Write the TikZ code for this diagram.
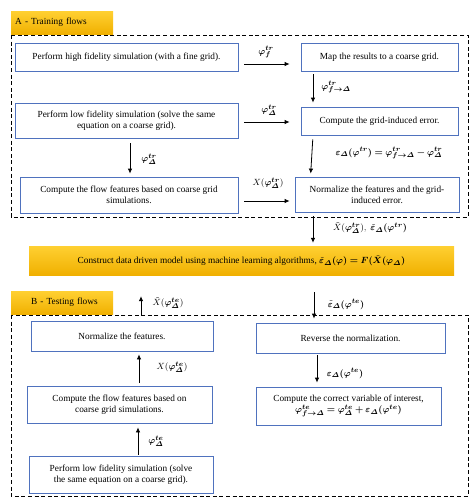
\documentclass[tikz,border=0pt]{standalone}
\usepackage{amsmath}
\usepackage{bm}
\usepackage{fontspec}
\setmainfont{Liberation Serif}
\usetikzlibrary{arrows.meta}
\definecolor{boxblue}{RGB}{79,114,190}
\definecolor{ytop}{RGB}{255,208,50}
\definecolor{ybot}{RGB}{240,176,0}
\newcommand{\fsz}{\fontsize{9.3}{11.2}\selectfont}
\tikzset{
  stepbox/.style={draw=boxblue, line width=0.8pt, fill=white, align=center, inner sep=1pt, font=\fsz},
  yellowbox/.style={top color=ytop, bottom color=ybot, draw=none, font=\fsz},
  dashbox/.style={draw=black, line width=0.8pt, dash pattern=on 4pt off 2.6pt},
  arr/.style={draw=black, line width=0.8pt, -{Latex[length=5pt,width=4.5pt]}},
  lbl/.style={font=\fsz, inner sep=0pt}
}
\begin{document}
\begin{tikzpicture}[x=1pt,y=-1pt]
\useasboundingbox (0,0) rectangle (474,504);
% dashed frames
\draw[dashbox] (11,35) rectangle (468,217);
\draw[dashbox] (11,315) rectangle (468,496);
% section labels
\node[yellowbox, minimum width=102pt, minimum height=23pt, anchor=north west, text width=94pt, align=left] (labA) at (11,11) {A - Training flows};
\node[yellowbox, minimum width=102pt, minimum height=23pt, anchor=north west, text width=94pt, align=left] (labB) at (11,291) {\hspace*{16pt}B - Testing flows};
% training boxes
\node[stepbox, minimum width=223pt, minimum height=28pt] (hf) at (126.5,57) {Perform high fidelity simulation (with a fine grid).};
\node[stepbox, minimum width=157pt, minimum height=28pt] (map) at (379.5,57) {Map the results to a coarse grid.};
\node[stepbox, minimum width=223pt, minimum height=35pt] (lf) at (126.5,120.5) {Perform low fidelity simulation (solve the same\\equation on a coarse grid).};
\node[stepbox, minimum width=157pt, minimum height=28pt] (err) at (379.5,121) {Compute the grid-induced error.};
\node[stepbox, minimum width=218pt, minimum height=36pt] (ff) at (129,195) {Compute the flow features based on coarse grid\\simulations.};
\node[stepbox, minimum width=164pt, minimum height=35pt] (nrm) at (377,194.5) {Normalize the features and the grid-\\induced error.};
% main model box
\node[yellowbox, minimum width=425pt, minimum height=29pt] (model) at (241.5,260.5) {Construct data driven model using machine learning algorithms, $\bm{\tilde{\varepsilon}_{\varDelta}(\varphi) = F(\tilde{X}(\varphi_{\varDelta})}$};
% testing boxes
\node[stepbox, minimum width=182pt, minimum height=30pt] (nrmB) at (122,336) {Normalize the features.};
\node[stepbox, minimum width=185pt, minimum height=37pt] (ffB) at (119.5,404.5) {Compute the flow features based on\\coarse grid simulations.};
\node[stepbox, minimum width=184pt, minimum height=37pt] (lfB) at (121,474.5) {Perform low fidelity simulation (solve\\the same equation on a coarse grid).};
\node[stepbox, minimum width=189pt, minimum height=30pt] (rev) at (350.5,338) {Reverse the normalization.};
\node[stepbox, minimum width=185pt, minimum height=38pt] (cor) at (348.5,406) {Compute the correct variable of interest,\\$\bm{\varphi^{te}_{f\to\varDelta} = \varphi^{te}_{\varDelta} + \varepsilon_{\varDelta}(\varphi^{te})}$};
% training connectors
\draw[arr, shorten <=6pt, shorten >=11pt] ([yshift=-7pt]hf.east) -- ([yshift=-7pt]map.west);
\draw[arr, shorten <=3pt, shorten >=4pt] ([xshift=-66.5pt]map.south) -- ([xshift=-66.5pt]err.north);
\draw[arr, shorten <=6pt, shorten >=11pt] ([yshift=-1.5pt]lf.east) -- ([yshift=-1pt]err.west);
\draw[arr, shorten <=5pt, shorten >=3pt] ([xshift=3.5pt]lf.south) -- ([xshift=1pt]ff.north);
\draw[arr, shorten <=4pt, shorten >=3pt] ([xshift=-66.5pt]err.south) -- ([xshift=-66.5pt]nrm.north);
\draw[arr, shorten <=6pt, shorten >=5pt] ([yshift=-6pt]ff.east) -- ([yshift=-6.5pt]nrm.west);
\draw[arr, shorten <=4pt, shorten >=3pt] ([xshift=-64pt]nrm.south) -- ([xshift=71.5pt]model.north);
% testing connectors
\draw[arr, shorten <=6pt, shorten >=21pt] ([xshift=19pt]nrmB.north) -- ([xshift=-100.5pt]model.south);
\draw[arr, shorten <=17pt, shorten >=4pt] ([xshift=72.5pt]model.south) -- ([xshift=-36.5pt]rev.north);
\draw[arr, shorten <=3pt, shorten >=3pt] ([xshift=19.5pt]ffB.north) -- ([xshift=17pt]nrmB.south);
\draw[arr, shorten <=1pt, shorten >=4pt] ([xshift=17pt]lfB.north) -- ([xshift=18.5pt]ffB.south);
\draw[arr, shorten <=2pt, shorten >=4pt] ([xshift=-33.5pt]rev.south) -- ([xshift=-31.5pt]cor.north);
% connector labels
\node[lbl] (l1) at (266,52) {$\bm{\varphi_f^{tr}}$};
\node[lbl] (l2) at (336,87) {$\bm{\varphi^{tr}_{f\to\varDelta}}$};
\node[lbl] (l3) at (269,110) {$\bm{\varphi^{tr}_{\varDelta}}$};
\node[lbl] (l4) at (149,159) {$\bm{\varphi^{tr}_{\varDelta}}$};
\node[lbl] (l5) at (389,153) {$\bm{\varepsilon_{\varDelta}(\varphi^{tr}) = \varphi^{tr}_{f\to\varDelta} - \varphi^{tr}_{\varDelta}}$};
\node[lbl] (l6) at (268,183) {$X(\bm{\varphi^{tr}_{\varDelta}})$};
\node[lbl] (l7) at (370,228) {$\tilde{X}(\bm{\varphi^{tr}_{\varDelta}}),\ \bm{\tilde{\varepsilon}_{\varDelta}(\varphi^{tr})}$};
\node[lbl] (l8) at (168,303) {$\tilde{X}(\bm{\varphi^{te}_{\varDelta}})$};
\node[lbl] (l9) at (346,304) {$\bm{\tilde{\varepsilon}_{\varDelta}(\varphi^{te})}$};
\node[lbl] (l10) at (172,367) {$X(\bm{\varphi^{te}_{\varDelta}})$};
\node[lbl] (l11) at (156,441) {$\bm{\varphi^{te}_{\varDelta}}$};
\node[lbl] (l12) at (345,373) {$\bm{\varepsilon_{\varDelta}(\varphi^{te})}$};
\end{tikzpicture}
\end{document}
